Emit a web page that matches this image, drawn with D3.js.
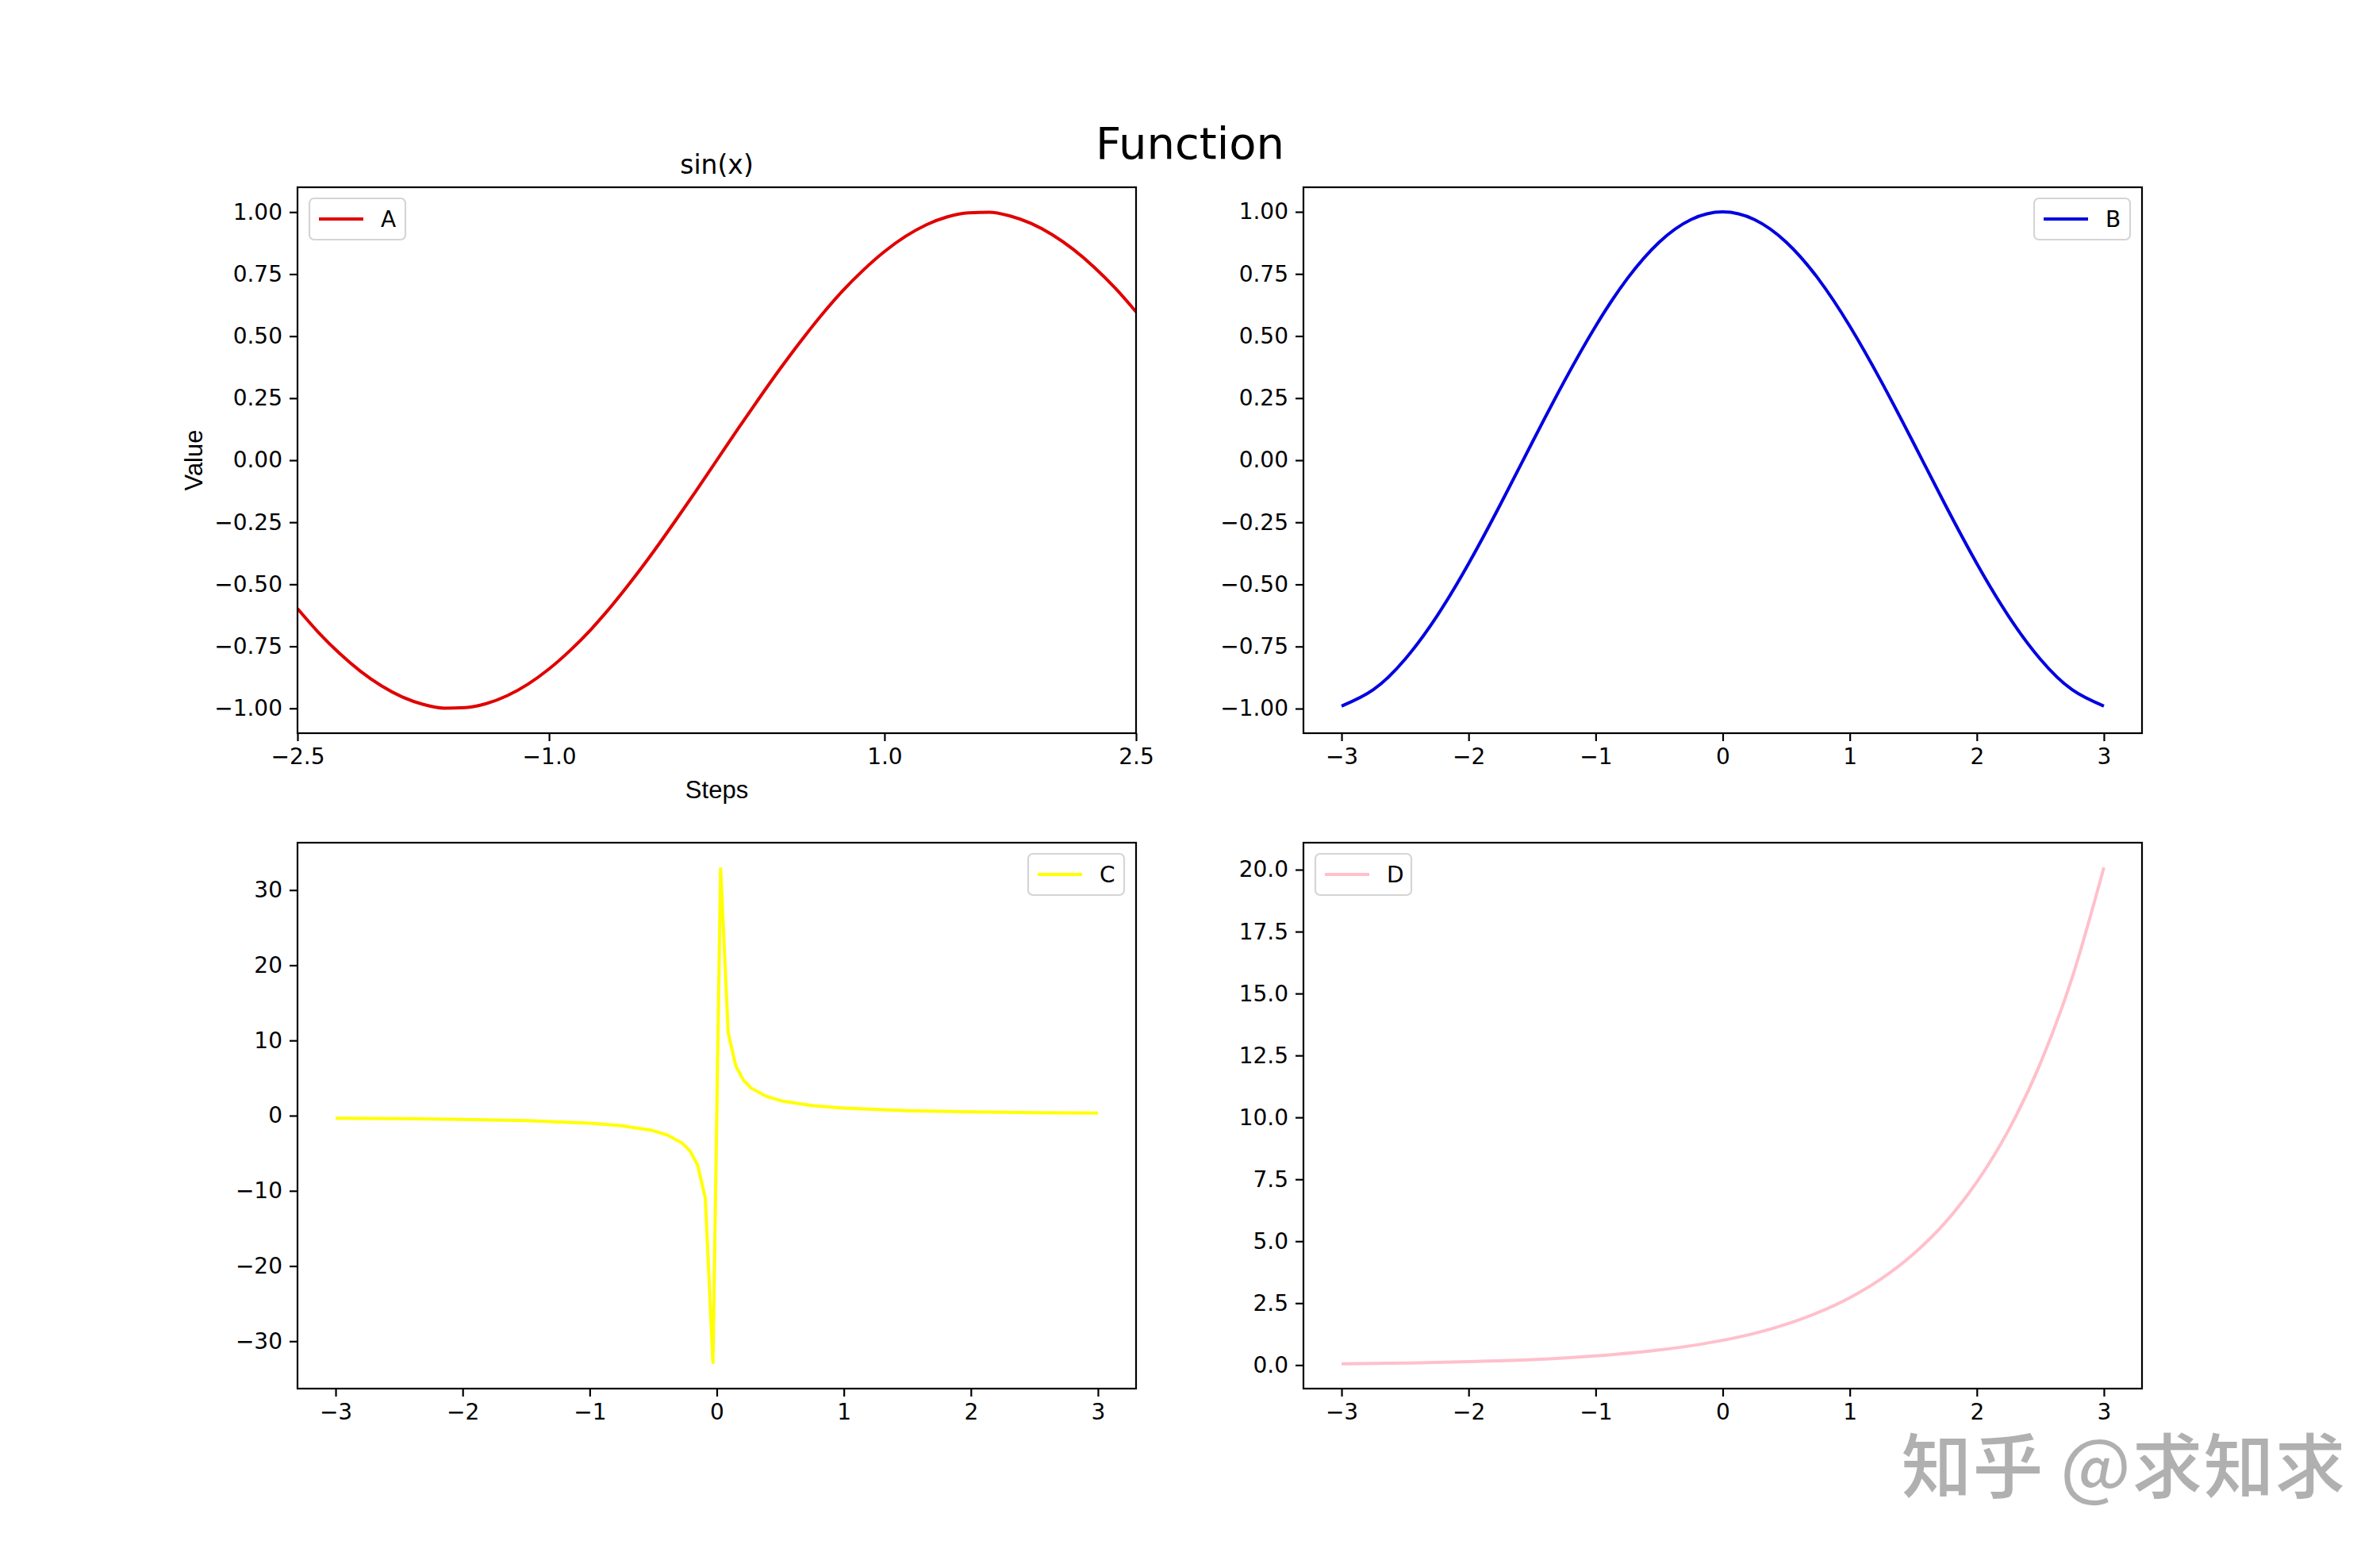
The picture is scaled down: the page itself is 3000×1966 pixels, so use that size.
<!DOCTYPE html>
<html><head><meta charset="utf-8">
<script src="https://cdn.jsdelivr.net/npm/d3@7"></script>
<style>body{margin:0;background:#fff}</style></head>
<body><svg id="c" width="3000" height="1966"></svg>
<script>
// Data
const xA = [-2.5,-2.375,-2.25,-2.125,-2,-1.875,-1.75,-1.625,-1.5,-1.375,-1.25,-1.125,-1,-0.875,-0.75,-0.625,-0.5,-0.375,-0.25,-0.125,0,0.125,0.25,0.375,0.5,0.625,0.75,0.875,1,1.125,1.25,1.375,1.5,1.625,1.75,1.875,2,2.125,2.25,2.375,2.5];
const yA = [-0.598,-0.694,-0.778,-0.850,-0.909,-0.954,-0.984,-0.999,-0.997,-0.981,-0.949,-0.902,-0.841,-0.767,-0.682,-0.585,-0.479,-0.366,-0.247,-0.125,0,0.125,0.247,0.366,0.479,0.585,0.682,0.767,0.841,0.902,0.949,0.981,0.997,0.999,0.984,0.954,0.909,0.850,0.778,0.694,0.598];
const xB = [-3,-2.75,-2.5,-2.25,-2,-1.75,-1.5,-1.25,-1,-0.75,-0.5,-0.25,0,0.25,0.5,0.75,1,1.25,1.5,1.75,2,2.25,2.5,2.75,3];
const yB = [-0.990,-0.924,-0.801,-0.628,-0.416,-0.178,0.071,0.315,0.540,0.732,0.878,0.969,1.00,0.969,0.878,0.732,0.540,0.315,0.071,-0.178,-0.416,-0.628,-0.801,-0.924,-0.990];
const xC = [-3,-2.5,-2,-1.5,-1,-0.76,-0.52,-0.39,-0.27,-0.21,-0.15,-0.09,-0.03,0.03,0.09,0.15,0.21,0.27,0.39,0.52,0.76,1,1.5,2,2.5,3];
const yC = [-0.33,-0.40,-0.50,-0.67,-1.0,-1.32,-1.92,-2.56,-3.67,-4.71,-6.6,-11,-33,33,11,6.6,4.71,3.67,2.56,1.92,1.32,1.0,0.67,0.50,0.40,0.33];
const xD = [-3,-2.5,-2,-1.5,-1,-0.5,0,0.25,0.5,0.75,1,1.25,1.5,1.75,2,2.25,2.5,2.75,3];
const yD = [0.05,0.08,0.14,0.22,0.37,0.61,1.0,1.28,1.65,2.12,2.72,3.49,4.48,5.75,7.39,9.49,12.18,15.64,20.09];
const ticksA_x = [-2.5,-1.0,1.0,2.5];
const ticksAB_y = [-1,-0.75,-0.5,-0.25,0,0.25,0.5,0.75,1];
const ticksInt_x = [-3,-2,-1,0,1,2,3];
const ticksC_y = [-30,-20,-10,0,10,20,30];
const ticksD_y = [0,2.5,5,7.5,10,12.5,15,17.5,20];

const svg = d3.select("#c");
const F = "DejaVu Sans, sans-serif";
const minus = s => String(s).replace("-", "\u2212");
const W = 1057, H = 688;
const panels = [
 {x0:375,y0:236,xs:xA,ys:yA,xd:[-2.5,2.5],yd:[-1.1,1.1],xt:ticksA_x,yt:ticksAB_y,xf:d=>minus(d.toFixed(1)),yf:d=>minus(d.toFixed(2)),col:"#e00000",name:"A",leg:"left",curve:d3.curveMonotoneX},
 {x0:1643,y0:236,xs:xB,ys:yB,xd:[-3.3,3.3],yd:[-1.099,1.099],xt:ticksInt_x,yt:ticksAB_y,xf:d=>minus(d),yf:d=>minus(d.toFixed(2)),col:"#0000e0",name:"B",leg:"right",curve:d3.curveNatural},
 {x0:375,y0:1062,xs:xC,ys:yC,xd:[-3.3,3.3],yd:[-36.3,36.3],xt:ticksInt_x,yt:ticksC_y,xf:d=>minus(d),yf:d=>minus(d),col:"#ffff00",name:"C",leg:"right",curve:d3.curveLinear},
 {x0:1643,y0:1062,xs:xD,ys:yD,xd:[-3.3,3.3],yd:[-0.95,21.09],xt:ticksInt_x,yt:ticksD_y,xf:d=>minus(d),yf:d=>minus(d.toFixed(1)),col:"#ffc0cb",name:"D",leg:"left",curve:d3.curveMonotoneX}
];
panels.forEach(p=>{
  const g = svg.append("g").attr("transform",`translate(${p.x0},${p.y0})`);
  const x = d3.scaleLinear().domain(p.xd).range([0,W]);
  const y = d3.scaleLinear().domain(p.yd).range([H,0]);
  g.append("defs").append("clipPath").attr("id","cl"+p.name).append("rect").attr("width",W).attr("height",H);
  g.append("path").datum(p.xs.map((v,i)=>[v,p.ys[i]]))
    .attr("clip-path",`url(#cl${p.name})`)
    .attr("d",d3.line().x(d=>x(d[0])).y(d=>y(d[1])).curve(p.curve))
    .attr("fill","none").attr("stroke",p.col).attr("stroke-width",4);
  const ax = g.append("g").attr("transform",`translate(0,${H})`)
    .call(d3.axisBottom(x).tickValues(p.xt).tickFormat(p.xf).tickSize(10).tickPadding(9));
  const ay = g.append("g").call(d3.axisLeft(y).tickValues(p.yt).tickFormat(p.yf).tickSize(10).tickPadding(9));
  [ax,ay].forEach(a=>{a.select(".domain").remove();
    a.selectAll("line").attr("stroke","#000").attr("stroke-width",2.2);
    a.selectAll("text").attr("font-family",F).attr("font-size",28).attr("fill","#000");});
  g.append("rect").attr("width",W).attr("height",H).attr("fill","none").attr("stroke","#000").attr("stroke-width",2.2);
  const lw=121, lh=52, lx = p.leg==="left"?15:W-15-lw, ly=14;
  const lg = g.append("g").attr("transform",`translate(${lx},${ly})`);
  lg.append("rect").attr("width",lw).attr("height",lh).attr("rx",6).attr("fill","#fff").attr("stroke","#d5d5d5").attr("stroke-width",2.2);
  lg.append("line").attr("x1",12).attr("x2",68).attr("y1",lh/2).attr("y2",lh/2).attr("stroke",p.col).attr("stroke-width",4);
  lg.append("text").attr("x",90).attr("y",lh/2+10).text(p.name).attr("font-family",F).attr("font-size",28);
});
svg.append("text").attr("x",1500).attr("y",200).attr("text-anchor","middle").attr("font-family",F).attr("font-size",56).text("Function");
svg.append("text").attr("x",375+W/2).attr("y",219).attr("text-anchor","middle").attr("font-family",F).attr("font-size",33).text("sin(x)");
svg.append("text").attr("x",375+W/2).attr("y",1020).attr("text-anchor","middle").attr("font-family","Liberation Sans, Arial, sans-serif").attr("font-size",31).text("Steps").attr("dy",-14);
svg.append("text").attr("transform","translate(255,580) rotate(-90)").attr("text-anchor","middle").attr("font-family","Liberation Sans, Arial, sans-serif").attr("font-size",31).text("Value");
svg.append("text").attr("x",2967).attr("y",1905).attr("text-anchor","end").attr("font-family","Noto Sans CJK SC, sans-serif").attr("font-size",90).attr("font-weight","bold").attr("fill","#b0b0b0").attr("stroke","#fff").attr("stroke-width",2).text("知乎 @求知求").attr("dx",-10).attr("dy",-24);
</script></body></html>
